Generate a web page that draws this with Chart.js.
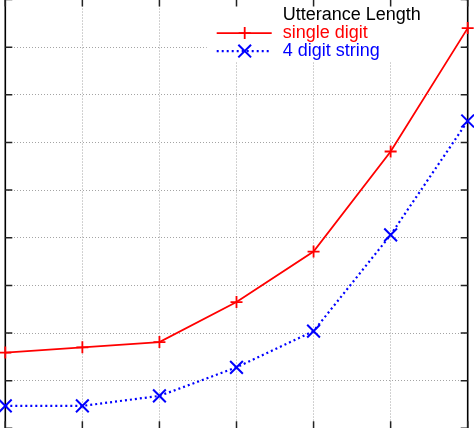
<!DOCTYPE html>
<html>
<head>
<meta charset="utf-8">
<script src="https://cdn.jsdelivr.net/npm/chart.js@4"></script>
<style>
html,body{margin:0;padding:0;background:#fff;overflow:hidden;width:474px;height:428px;}
#wrap{position:absolute;left:-15px;top:-20px;width:510px;height:470px;}
</style>
</head>
<body>
<div id="wrap"><canvas id="c" width="510" height="470"></canvas></div>
<script>
const categories = ['1','2','3','4','5','6','7'];
const singleDigit = [1.59, 1.70, 1.81, 2.65, 3.71, 5.81, 8.40];
const fourDigitString = [0.47, 0.47, 0.68, 1.28, 2.04, 4.06, 6.45];
const yMin = 0, yMax = 9, yStep = 1;
const legendTitle = 'Utterance Length';
const seriesNames = ['single digit', '4 digit string'];

const gridColor = (ctx) => {
  const n = ctx.scale.ticks.length;
  return (ctx.index === 0 || ctx.index === n - 1) ? 'rgba(0,0,0,0)' : '#a4a4a4';
};

const frame = {
  id: 'frame',
  beforeDatasetsDraw(chart) {
    const {ctx, chartArea: a, scales: {x, y}} = chart;
    ctx.save();
    // axis lines (left and right visible)
    ctx.strokeStyle = '#000';
    ctx.lineWidth = 1.6;
    ctx.beginPath();
    ctx.moveTo(a.left, a.top); ctx.lineTo(a.left, a.bottom);
    ctx.moveTo(a.right, a.top); ctx.lineTo(a.right, a.bottom);
    ctx.stroke();
    // inward tick marks
    ctx.strokeStyle = '#222';
    ctx.lineWidth = 1.5;
    ctx.beginPath();
    const tl = 7;
    y.ticks.forEach(t => {
      const py = y.getPixelForValue(t.value);
      ctx.moveTo(a.left, py); ctx.lineTo(a.left + tl, py);
      ctx.moveTo(a.right, py); ctx.lineTo(a.right - tl, py);
    });
    x.ticks.forEach((t, i) => {
      const px = x.getPixelForTick(i);
      ctx.moveTo(px, a.top); ctx.lineTo(px, a.top + tl);
      ctx.moveTo(px, a.bottom); ctx.lineTo(px, a.bottom - tl);
    });
    ctx.stroke();
    // legend box
    const bx = a.right - 261, by = a.top - 2, bw = 259, bh = 64.5;
    ctx.fillStyle = '#fff';
    ctx.fillRect(bx, by, bw, bh);
    ctx.strokeStyle = '#222';
    ctx.beginPath();
    x.ticks.forEach((t, i) => {
      const px = x.getPixelForTick(i);
      if (px > bx && px < bx + bw) { ctx.moveTo(px, a.top); ctx.lineTo(px, a.top + tl); }
    });
    y.ticks.forEach(t => {
      const py = y.getPixelForValue(t.value);
      if (py < by + bh) { ctx.moveTo(a.right, py); ctx.lineTo(a.right - tl, py); }
    });
    ctx.stroke();
    // legend content
    const lx1 = a.right - 251, lx2 = a.right - 196, mx = a.right - 223, tx = a.right - 185;
    const rows = [a.top + 15.5, a.top + 33.5, a.top + 51.5];
    ctx.font = '18px "Liberation Sans", Arial, sans-serif';
    ctx.textBaseline = 'middle';
    ctx.textAlign = 'left';
    ctx.fillStyle = '#000';
    ctx.fillText(legendTitle, tx, rows[0]);
    chart.data.datasets.forEach((ds, i) => {
      const ry = rows[i + 1];
      ctx.strokeStyle = ds.borderColor;
      ctx.lineWidth = ds.borderWidth;
      ctx.setLineDash(ds.borderDash || []);
      ctx.beginPath(); ctx.moveTo(lx1, ry); ctx.lineTo(lx2, ry); ctx.stroke();
      ctx.setLineDash([]);
      ctx.lineWidth = ds.pointBorderWidth;
      ctx.beginPath();
      const r = ds.pointRadius;
      if (ds.pointStyle === 'cross') {
        ctx.moveTo(mx - r, ry); ctx.lineTo(mx + r, ry);
        ctx.moveTo(mx, ry - r); ctx.lineTo(mx, ry + r);
      } else {
        const d = r * Math.SQRT1_2;
        ctx.moveTo(mx - d, ry - d); ctx.lineTo(mx + d, ry + d);
        ctx.moveTo(mx + d, ry - d); ctx.lineTo(mx - d, ry + d);
      }
      ctx.stroke();
      ctx.fillStyle = ds.borderColor;
      ctx.fillText(ds.label, tx, ry);
    });
    ctx.restore();
  }
};

new Chart(document.getElementById('c'), {
  type: 'line',
  data: {
    labels: categories,
    datasets: [
      {
        label: seriesNames[0], data: singleDigit,
        borderColor: '#ff0000', backgroundColor: '#ff0000',
        borderWidth: 1.8, tension: 0, fill: false,
        pointStyle: 'cross', pointRadius: 6, pointBorderWidth: 1.8,
        pointBorderColor: '#ff0000', clip: false
      },
      {
        label: seriesNames[1], data: fourDigitString,
        borderColor: '#0000ff', backgroundColor: '#0000ff',
        borderWidth: 2.2, borderDash: [2, 3], tension: 0, fill: false,
        pointStyle: 'crossRot', pointRadius: 9, pointBorderWidth: 2,
        pointBorderColor: '#0000ff', clip: false
      }
    ]
  },
  options: {
    responsive: false,
    animation: false,
    devicePixelRatio: 1,
    layout: { autoPadding: false, padding: { left: 20.3, top: 19.54, right: 27.3, bottom: 21.7 } },
    plugins: { legend: { display: false }, tooltip: { enabled: false }, title: { display: false } },
    scales: {
      x: {
        type: 'category', offset: false,
        grid: { display: true, drawTicks: false, color: gridColor, lineWidth: 1 },
        border: { display: false, dash: [1, 2] },
        ticks: { display: false }
      },
      y: {
        type: 'linear', min: yMin, max: yMax,
        grid: { display: true, drawTicks: false, color: gridColor, lineWidth: 1 },
        border: { display: false, dash: [1, 2] },
        ticks: { display: false, stepSize: yStep }
      }
    }
  },
  plugins: [frame]
});
</script>
</body>
</html>
